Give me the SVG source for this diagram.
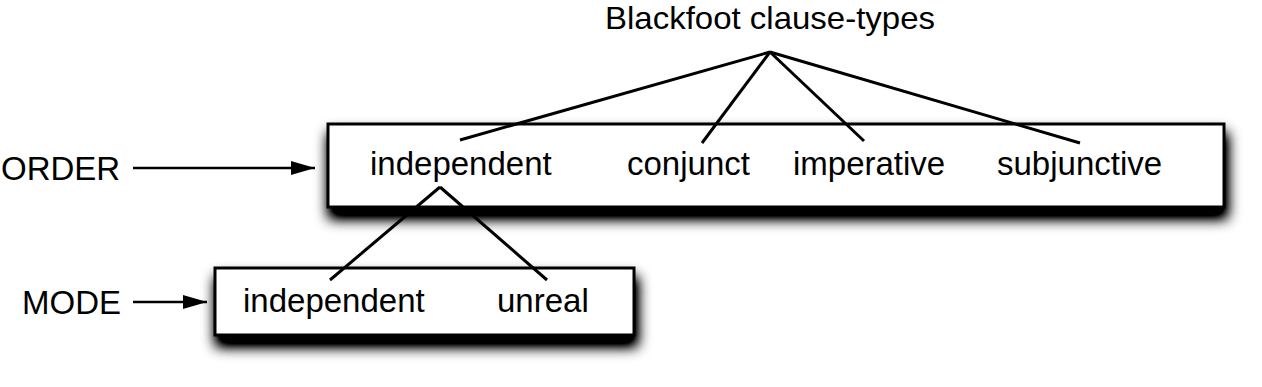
<svg xmlns="http://www.w3.org/2000/svg" width="1262" height="387" viewBox="0 0 1262 387">
  <defs>
    <filter id="shadow" x="-10%" y="-30%" width="120%" height="190%">
      <feGaussianBlur in="SourceAlpha" stdDeviation="7"/>
      <feOffset dx="2" dy="10" result="b"/>
      <feComponentTransfer><feFuncA type="linear" slope="1.5"/></feComponentTransfer>
      <feMerge><feMergeNode/><feMergeNode in="SourceGraphic"/></feMerge>
    </filter>
    <marker id="arrow" viewBox="0 0 24 14" refX="24" refY="7" markerWidth="24" markerHeight="14" markerUnits="userSpaceOnUse" orient="auto">
      <path d="M0,0 L24,7 L0,14 Z" fill="#000"/>
    </marker>
  </defs>
  <style>
    .box { fill: #fff; stroke: #000; stroke-width: 3; }
    .edge { stroke: #000; stroke-width: 3; fill: none; stroke-linecap: butt; }
    .arr { stroke: #000; stroke-width: 2.5; fill: none; }
    text { font-family: "Liberation Sans", Arial, Helvetica, sans-serif; font-size: 33px; fill: #000; }
    .title { font-size: 32px; }
  </style>

  <g id="order-box">
    <rect class="box" x="328" y="124" width="896" height="83" filter="url(#shadow)"/>
    <text x="370" y="175">independent</text>
    <text x="627" y="175">conjunct</text>
    <text x="793" y="175">imperative</text>
    <text x="997" y="175">subjunctive</text>
  </g>

  <g id="mode-box">
    <rect class="box" x="215" y="268" width="419" height="67" filter="url(#shadow)"/>
    <text x="243" y="312">independent</text>
    <text x="497" y="312">unreal</text>
  </g>

  <g id="title">
    <text class="title" x="605" y="29" textLength="330" lengthAdjust="spacingAndGlyphs">Blackfoot clause-types</text>
  </g>

  <g id="order-label">
    <text x="1" y="180">ORDER</text>
  </g>

  <g id="mode-label">
    <text x="22" y="314">MODE</text>
  </g>

  <g id="connectors">
    <line class="edge" x1="770" y1="52" x2="460" y2="140"/>
    <line class="edge" x1="770" y1="52" x2="702" y2="143"/>
    <line class="edge" x1="770" y1="52" x2="864" y2="141"/>
    <line class="edge" x1="770" y1="52" x2="1080" y2="143"/>
    <line class="edge" x1="440" y1="187" x2="330" y2="280"/>
    <line class="edge" x1="440" y1="187" x2="547" y2="280"/>
    <line class="arr" x1="133" y1="168" x2="315" y2="168" marker-end="url(#arrow)"/>
    <line class="arr" x1="133" y1="302" x2="207" y2="302" marker-end="url(#arrow)"/>
  </g>
</svg>
